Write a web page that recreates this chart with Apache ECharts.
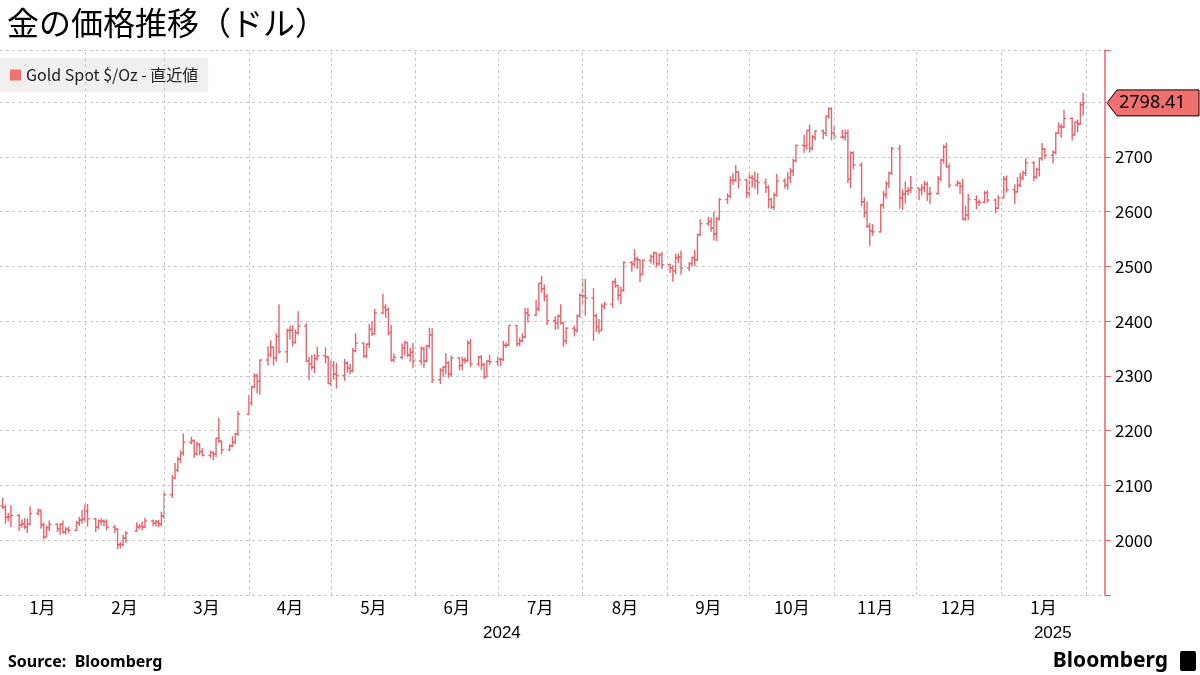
<!DOCTYPE html>
<html><head><meta charset="utf-8">
<script src="https://cdn.jsdelivr.net/npm/echarts@6/dist/echarts.min.js"></script>
<style>html,body{margin:0;padding:0;background:#fff}#c{width:1200px;height:675px}</style>
</head><body><div id="c"></div>
<script>
// [day, open, high, low, close]
const jan24=[[2,2063,2078,2057,2060],[3,2060,2065,2030,2042],[4,2042,2050,2034,2043],[5,2043,2064,2024,2045],[8,2045,2048,2017,2028],[9,2028,2038,2023,2030],[10,2030,2040,2020,2024],[11,2024,2040,2013,2029],[12,2029,2062,2028,2049],[15,2049,2058,2045,2054],[16,2054,2056,2021,2028],[17,2028,2032,2002,2006],[18,2006,2027,2005,2023],[19,2023,2036,2017,2029],[22,2029,2031,2015,2021],[23,2021,2031,2010,2029],[24,2029,2036,2012,2015],[25,2015,2024,2010,2020],[26,2020,2025,2013,2018],[29,2018,2035,2017,2032],[30,2032,2043,2026,2037],[31,2037,2055,2030,2039]];
const feb24=[[1,2039,2065,2035,2054],[2,2054,2066,2025,2039],[5,2039,2041,2015,2024],[6,2024,2038,2020,2035],[7,2035,2040,2027,2035],[8,2035,2038,2025,2034],[9,2034,2038,2018,2024],[12,2024,2028,2013,2020],[13,2020,2022,1984,1992],[14,1992,1997,1985,1992],[15,1992,2010,1989,2004],[16,2004,2017,1995,2013],[20,2017,2033,2015,2024],[21,2024,2030,2020,2025],[22,2025,2034,2018,2024],[23,2024,2041,2022,2035],[26,2035,2038,2025,2031],[27,2031,2037,2025,2034],[28,2034,2037,2024,2030],[29,2030,2052,2025,2044]];
const mar24=[[1,2044,2088,2039,2083],[4,2083,2119,2077,2114],[5,2114,2141,2111,2128],[6,2128,2152,2124,2148],[7,2148,2164,2141,2159],[8,2159,2195,2154,2179],[11,2179,2189,2175,2182],[12,2182,2184,2150,2158],[13,2158,2180,2154,2175],[14,2175,2177,2155,2162],[15,2162,2168,2153,2155],[18,2155,2164,2150,2160],[19,2160,2162,2146,2157],[20,2157,2187,2152,2186],[21,2186,2223,2178,2181],[22,2181,2182,2157,2165],[25,2165,2175,2163,2172],[26,2172,2190,2170,2179],[27,2179,2196,2175,2194],[28,2194,2236,2190,2230]];
const apr24=[[1,2230,2265,2228,2251],[2,2251,2282,2246,2280],[3,2280,2305,2277,2300],[4,2300,2304,2268,2290],[5,2290,2330,2266,2329],[8,2329,2354,2319,2339],[9,2339,2365,2334,2352],[10,2352,2354,2319,2333],[11,2333,2378,2326,2372],[12,2372,2431,2341,2344],[15,2344,2386,2324,2383],[16,2383,2392,2366,2383],[17,2383,2393,2354,2361],[18,2361,2385,2359,2379],[19,2379,2418,2375,2391],[22,2391,2396,2325,2327],[23,2327,2335,2292,2322],[24,2322,2338,2311,2316],[25,2316,2340,2305,2332],[26,2332,2353,2328,2337],[29,2337,2352,2323,2335],[30,2335,2336,2285,2286]];
const may24=[[1,2286,2327,2281,2319],[2,2319,2327,2293,2303],[3,2303,2324,2277,2301],[6,2301,2331,2291,2323],[7,2323,2327,2306,2314],[8,2314,2322,2303,2309],[9,2309,2351,2306,2346],[10,2346,2378,2343,2360],[13,2360,2361,2333,2336],[14,2336,2359,2332,2358],[15,2358,2395,2351,2385],[16,2385,2400,2373,2377],[17,2377,2422,2375,2415],[20,2415,2450,2413,2425],[21,2425,2431,2406,2421],[22,2421,2425,2374,2379],[23,2379,2393,2326,2329],[24,2329,2341,2325,2334],[27,2334,2359,2330,2351],[28,2351,2364,2337,2361],[29,2361,2362,2334,2338],[30,2338,2351,2326,2343],[31,2343,2360,2314,2327]];
const jun24=[[3,2327,2354,2320,2350],[4,2350,2353,2315,2327],[5,2327,2357,2325,2355],[6,2355,2388,2350,2375],[7,2375,2387,2287,2293],[10,2293,2314,2285,2310],[11,2310,2318,2298,2316],[12,2316,2342,2303,2324],[13,2324,2327,2296,2303],[14,2303,2337,2299,2333],[17,2333,2334,2310,2319],[18,2319,2335,2310,2329],[19,2329,2334,2322,2328],[20,2328,2365,2325,2360],[21,2360,2368,2316,2322],[24,2322,2337,2317,2334],[25,2334,2338,2311,2320],[26,2320,2324,2294,2298],[27,2298,2328,2298,2327],[28,2327,2339,2320,2326]];
const jul24=[[1,2326,2335,2319,2331],[2,2331,2333,2318,2330],[3,2330,2364,2327,2356],[4,2356,2361,2351,2356],[5,2356,2392,2354,2392],[8,2392,2393,2353,2359],[9,2359,2370,2354,2364],[10,2364,2378,2361,2371],[11,2371,2424,2369,2415],[12,2415,2424,2397,2411],[15,2411,2439,2409,2422],[16,2422,2469,2418,2469],[17,2469,2483,2452,2459],[18,2459,2467,2436,2445],[19,2445,2450,2393,2401],[22,2401,2409,2384,2396],[23,2396,2412,2385,2409],[24,2409,2431,2394,2397],[25,2397,2398,2353,2364],[26,2364,2389,2358,2387],[29,2387,2392,2372,2384],[30,2384,2412,2379,2410],[31,2410,2451,2406,2447]];
const aug24=[[1,2447,2477,2432,2446],[2,2446,2477,2410,2442],[5,2442,2460,2364,2410],[6,2410,2413,2380,2390],[7,2390,2404,2377,2383],[8,2383,2432,2382,2427],[9,2427,2436,2421,2431],[12,2431,2474,2424,2472],[13,2472,2479,2461,2465],[14,2465,2466,2437,2447],[15,2447,2463,2431,2456],[16,2456,2509,2454,2507],[19,2507,2510,2490,2504],[20,2504,2531,2499,2514],[21,2514,2518,2495,2512],[22,2512,2513,2471,2485],[23,2485,2513,2484,2511],[26,2511,2522,2505,2518],[27,2518,2527,2503,2524],[28,2524,2526,2498,2505],[29,2505,2524,2501,2521],[30,2521,2526,2495,2503]];
const sep24=[[2,2503,2505,2488,2497],[3,2497,2502,2472,2492],[4,2492,2523,2486,2516],[5,2516,2523,2506,2517],[6,2517,2529,2485,2497],[9,2497,2508,2491,2505],[10,2505,2518,2500,2516],[11,2516,2530,2500,2512],[12,2512,2559,2510,2558],[13,2558,2586,2555,2578],[16,2578,2590,2574,2582],[17,2582,2589,2563,2570],[18,2570,2600,2547,2559],[19,2559,2590,2546,2587],[20,2587,2625,2584,2622],[23,2622,2633,2614,2628],[24,2628,2664,2624,2657],[25,2657,2670,2649,2657],[26,2657,2685,2654,2672],[27,2672,2674,2642,2658],[30,2658,2660,2625,2634]];
const oct24=[[1,2634,2673,2624,2662],[2,2662,2667,2644,2660],[3,2660,2673,2642,2656],[4,2656,2670,2631,2653],[7,2653,2660,2634,2644],[8,2644,2648,2606,2622],[9,2622,2625,2605,2608],[10,2608,2635,2603,2630],[11,2630,2669,2627,2656],[14,2656,2661,2642,2648],[15,2648,2672,2640,2662],[16,2662,2680,2652,2674],[17,2674,2696,2665,2693],[18,2693,2722,2690,2721],[21,2721,2740,2707,2720],[22,2720,2749,2713,2748],[23,2748,2759,2708,2715],[24,2715,2740,2712,2736],[25,2736,2749,2730,2747],[28,2747,2750,2732,2743],[29,2743,2775,2738,2774],[30,2774,2790,2770,2788],[31,2788,2790,2730,2744]];
const nov24=[[1,2744,2757,2731,2736],[4,2736,2750,2733,2736],[5,2736,2750,2730,2743],[6,2743,2750,2652,2659],[7,2659,2710,2643,2707],[8,2707,2710,2677,2685],[11,2685,2690,2610,2618],[12,2618,2626,2589,2598],[13,2598,2618,2570,2573],[14,2573,2579,2537,2565],[15,2565,2577,2556,2563],[18,2563,2614,2562,2612],[19,2612,2638,2605,2631],[20,2631,2656,2624,2651],[21,2651,2673,2643,2670],[22,2670,2718,2667,2715],[25,2715,2722,2605,2625],[26,2625,2640,2603,2632],[27,2632,2655,2615,2637],[28,2637,2645,2630,2639],[29,2639,2665,2634,2643]];
const dec24=[[2,2643,2644,2621,2640],[3,2640,2650,2630,2643],[4,2643,2656,2635,2650],[5,2650,2655,2620,2632],[6,2632,2645,2614,2633],[9,2633,2665,2631,2660],[10,2660,2697,2655,2694],[11,2694,2722,2688,2718],[12,2718,2726,2680,2682],[13,2682,2688,2643,2648],[16,2648,2657,2646,2652],[17,2652,2654,2632,2646],[18,2646,2660,2584,2586],[19,2586,2611,2583,2594],[20,2594,2632,2584,2622],[23,2622,2630,2604,2617],[24,2617,2622,2610,2617],[26,2617,2638,2615,2634],[27,2634,2639,2616,2621],[30,2621,2624,2597,2606],[31,2606,2630,2604,2625]];
const jan25=[[2,2625,2665,2624,2659],[3,2659,2666,2635,2640],[6,2640,2650,2614,2636],[7,2636,2663,2635,2648],[8,2648,2671,2644,2662],[9,2662,2675,2657,2670],[10,2670,2697,2665,2689],[13,2689,2692,2656,2663],[14,2663,2680,2660,2677],[15,2677,2698,2664,2697],[16,2697,2725,2693,2714],[17,2714,2716,2697,2703],[20,2703,2712,2688,2708],[21,2708,2745,2704,2743],[22,2743,2763,2741,2755],[23,2755,2760,2735,2754],[24,2754,2786,2752,2770],[27,2770,2772,2730,2740],[28,2740,2764,2739,2763],[29,2763,2768,2745,2760],[30,2760,2800,2758,2795],[31,2795,2817,2775,2798.41]];
const months=[[2024,1,jan24],[2024,2,feb24],[2024,3,mar24],[2024,4,apr24],[2024,5,may24],[2024,6,jun24],[2024,7,jul24],[2024,8,aug24],[2024,9,sep24],[2024,10,oct24],[2024,11,nov24],[2024,12,dec24],[2025,1,jan25]];
const monthLabels=['1月','2月','3月','4月','5月','6月','7月','8月','9月','10月','11月','12月','1月'];
const yTicks=[2000,2100,2200,2300,2400,2500,2600,2700];
const lastValue=2798.41;
const RED='#e8646c';

const data=[];
months.forEach(([y,m,arr])=>arr.forEach(r=>data.push([Date.UTC(y,m-1,r[0]),r[1],r[2],r[3],r[4]])));
const monthStarts=[];
for(let i=0;i<=13;i++){monthStarts.push(Date.UTC(2024,i,1));}

const chart=echarts.init(document.getElementById('c'));
chart.setOption({
  animation:false,
  textStyle:{fontFamily:'"Noto Sans CJK JP","Noto Sans",sans-serif'},
  title:{text:'金の価格推移（ドル）',left:2,top:2,textStyle:{fontSize:32,fontWeight:'normal',color:'#000'}},
  legend:{show:true,left:0,top:58,itemWidth:11,itemHeight:11,icon:'rect',backgroundColor:'#f0f0f0',padding:[9,10,9,10],
    textStyle:{fontSize:16,color:'#222'},data:[{name:'Gold Spot $/Oz - 直近値',itemStyle:{color:'#f07070'}}]},
  grid:{left:0,right:95,top:50,bottom:80},
  xAxis:{type:'time',min:Date.UTC(2024,0,1),max:Date.UTC(2025,1,8),
    axisLine:{show:false},axisTick:{show:false},axisLabel:{show:false},splitLine:{show:false}},
  yAxis:{type:'value',position:'right',min:1900,max:2895,interval:100,
    axisLine:{show:true,lineStyle:{color:RED,width:1.5}},
    axisTick:{show:true,inside:false,length:6,lineStyle:{color:RED}},
    axisLabel:{color:'#000',fontSize:17,margin:10,formatter:v=>yTicks.includes(v)?String(v):''},
    splitLine:{show:true,lineStyle:{color:'#c8c8c8',type:[3,3]}}},
  series:[{
    name:'Gold Spot $/Oz - 直近値',type:'custom',
    itemStyle:{color:'#f07070'},
    encode:{x:0,y:[1,2,3,4]},
    data:data,
    renderItem:function(params,api){
      const x=api.value(0);
      const o=api.coord([x,api.value(1)]),h=api.coord([x,api.value(2)]),l=api.coord([x,api.value(3)]),c=api.coord([x,api.value(4)]);
      const st={stroke:RED,lineWidth:1.4};
      return {type:'group',children:[
        {type:'line',shape:{x1:h[0],y1:h[1],x2:l[0],y2:l[1]},style:st},
        {type:'line',shape:{x1:o[0]-2.2,y1:o[1],x2:o[0],y2:o[1]},style:st},
        {type:'line',shape:{x1:c[0],y1:c[1],x2:c[0]+2.2,y2:c[1]},style:st}
      ]};
    },
    markLine:{silent:true,symbol:'none',label:{show:false},lineStyle:{color:'#c8c8c8',type:[3,3],width:1},
      data:monthStarts.slice(1).map(t=>({xAxis:t}))}
  }]
});

const gr=[];
const baseY=chart.convertToPixel({gridIndex:0},[monthStarts[0],1900])[1];
for(let i=0;i<13;i++){
  const mid=(monthStarts[i]+monthStarts[i+1])/2;
  const px=chart.convertToPixel({gridIndex:0},[mid,1900])[0];
  gr.push({type:'text',x:px,y:baseY+13,style:{text:monthLabels[i],fontSize:17,fill:'#000',align:'center',verticalAlign:'middle',fontFamily:'"Noto Sans CJK JP",sans-serif'}});
}
const x2024=chart.convertToPixel({gridIndex:0},[(monthStarts[5]+monthStarts[7])/2+86400000*1,1900])[0];
const x2025=chart.convertToPixel({gridIndex:0},[monthStarts[12]+86400000*16,1900])[0];
gr.push({type:'text',x:x2024,y:baseY+38,style:{text:'2024',fontSize:17,fill:'#000',align:'center',verticalAlign:'middle'}});
gr.push({type:'text',x:x2025+8,y:baseY+38,style:{text:'2025',fontSize:17,fill:'#000',align:'center',verticalAlign:'middle'}});
const fy=chart.convertToPixel({gridIndex:0},[monthStarts[0],lastValue])[1];
const ax=1107;
gr.push({type:'polygon',shape:{points:[[ax,fy],[ax+10,fy-13],[1199,fy-13],[1199,fy+13],[ax+10,fy+13]]},style:{fill:'#f07070',stroke:'#000',lineWidth:1}});
gr.push({type:'text',x:ax+12,y:fy,style:{text:lastValue.toFixed(2),fontSize:18,fill:'#000',verticalAlign:'middle',fontFamily:'"Noto Sans",sans-serif'}});
gr.push({type:'text',x:8,y:662,style:{text:'Source:  Bloomberg',fontSize:16,fontWeight:'bold',fill:'#000',verticalAlign:'middle',fontFamily:'"Noto Sans",sans-serif'}});
gr.push({type:'text',x:1168,y:661,style:{text:'Bloomberg',fontSize:21,fontWeight:'bold',fill:'#000',align:'right',verticalAlign:'middle',fontFamily:'"Noto Sans",sans-serif'}});
gr.push({type:'rect',shape:{x:1180,y:651,width:16,height:20,r:2},style:{fill:'#000'}});
chart.setOption({graphic:gr});
</script></body></html>
